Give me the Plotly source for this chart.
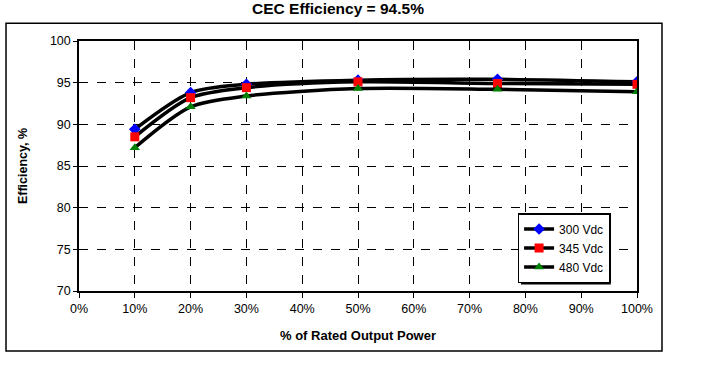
import plotly.graph_objects as go

# % of rated output power
load_pct = [10, 20, 30, 50, 75, 100]

# efficiency, % for each DC input voltage
eff_300 = [89.4, 93.8, 94.8, 95.3, 95.4, 95.1]
eff_345 = [88.5, 93.2, 94.4, 95.1, 94.9, 94.8]
eff_480 = [87.2, 92.1, 93.4, 94.3, 94.2, 93.9]

series_names = ["300 Vdc", "345 Vdc", "480 Vdc"]
marker_colors = ["#0000ff", "#ff0000", "#008000"]
marker_symbols = ["diamond", "square", "triangle-up"]

x_ticks = list(range(0, 101, 10))
x_labels = ["0%", "10%", "20%", "30%", "40%", "50%", "60%", "70%", "80%", "90%", "100%"]

font = "Liberation Sans, Arial, sans-serif"

fig = go.Figure()
for name, vals, col, sym in zip(series_names, [eff_300, eff_345, eff_480],
                                marker_colors, marker_symbols):
    fig.add_trace(go.Scatter(
        x=load_pct, y=vals, name=name, mode="lines+markers",
        line=dict(color="black", width=3.5, shape="spline", smoothing=0.8),
        marker=dict(color=col, symbol=sym, size=9, line=dict(width=0)),
    ))

# outer chart frame, as in the Excel original
fig.add_shape(type="rect", xref="paper", yref="paper",
              x0=-0.1308, x1=1.0448, y0=-0.240, y1=1.0714,
              line=dict(color="black", width=1.5), layer="below")
# legend drop shadow
fig.add_shape(type="rect", xref="paper", yref="paper",
              x0=0.792, x1=0.953, y0=0.026, y1=0.30,
              line=dict(width=0), fillcolor="black", layer="above")

fig.update_layout(
    width=701, height=383,
    margin=dict(l=79, r=64, t=41, b=92),
    paper_bgcolor="white", plot_bgcolor="white",
    font=dict(family=font, size=12.5, color="black"),
    title=dict(text="<b>CEC Efficiency = 94.5%</b>", x=338 / 701, xanchor="center",
               y=0.9765, yanchor="middle", yref="container",
               font=dict(size=15.5, family=font)),
    xaxis=dict(range=[0, 100], tickvals=x_ticks, ticktext=x_labels,
               showgrid=True, gridcolor="black", griddash="dash", gridwidth=1,
               showline=True, linecolor="black", linewidth=1.5, mirror=True,
               ticks="outside", ticklen=5, tickcolor="black",
               zeroline=False,
               title=dict(text="<b>% of Rated Output Power</b>", standoff=16,
                          font=dict(size=13))),
    yaxis=dict(range=[70, 100], dtick=5,
               showgrid=True, gridcolor="black", griddash="dash", gridwidth=1,
               showline=True, linecolor="black", linewidth=1.5, mirror=True,
               ticks="outside", ticklen=4, tickcolor="black",
               zeroline=False,
               title=dict(text="<b>Efficiency, %</b>", standoff=20,
                          font=dict(size=12.5))),
    legend=dict(x=0.786, y=0.312, xanchor="left", yanchor="top",
                bgcolor="white", bordercolor="black", borderwidth=1.5,
                font=dict(size=12), tracegroupgap=0, itemwidth=30),
    showlegend=True,
)

# drop the browser's default 8px body margin so the figure sits at (0, 0)
fig.write_html("out.html", config={"displayModeBar": False},
               post_script="document.body.style.margin='0';")
